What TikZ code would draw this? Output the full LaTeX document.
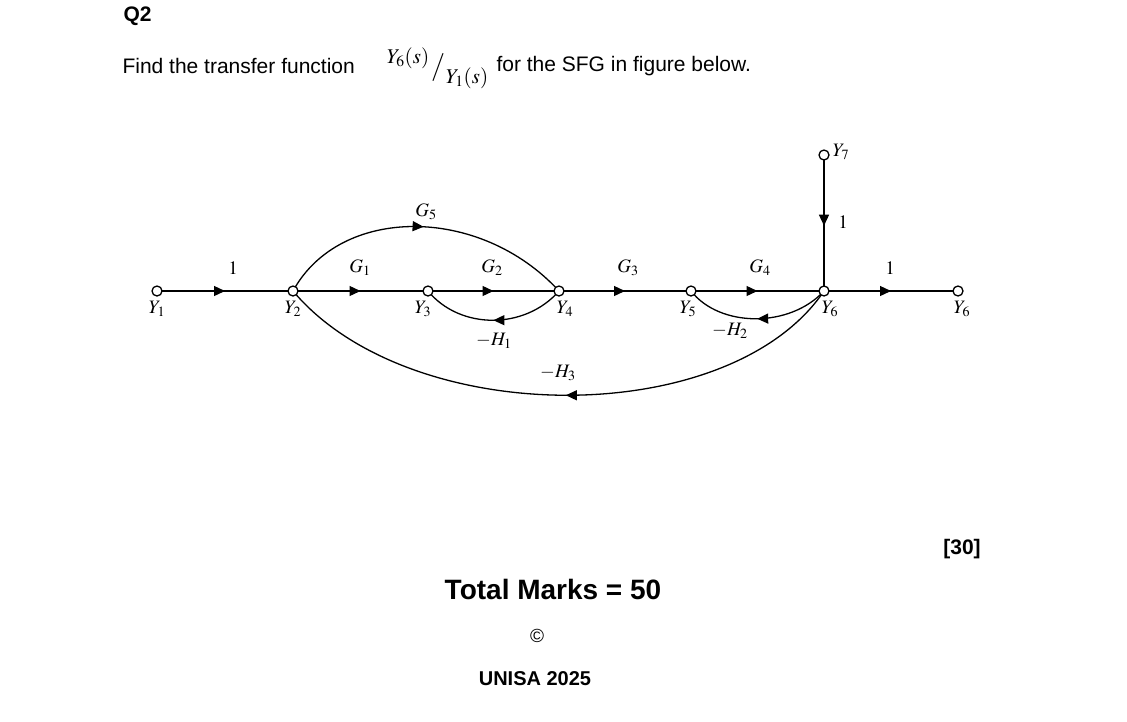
\documentclass[tikz,border=0pt]{standalone}
\usepackage{mathptmx}
\usepackage{fontspec}
\setmainfont{Liberation Sans}
\usetikzlibrary{decorations.markings,arrows.meta}
\begin{document}
\begin{tikzpicture}[x=1pt,y=-1pt,
  nd/.style={circle,draw,fill=white,inner sep=0pt,minimum size=10pt,line width=1.3pt},
  br/.style={line width=1.3pt,postaction={decorate},decoration={markings,mark=at position #1 with {\arrow{Triangle[length=11pt,width=10pt]}}}},
  br/.default=0.5,
  lb/.style={font=\fontsize{19}{19}\selectfont},
  yl/.style={font=\fontsize{19}{19}\selectfont}]
\useasboundingbox (0,0) rectangle (1127,721);
\node[anchor=west,font=\bfseries\fontsize{21}{21}\selectfont] (q) at (120,16) {Q2};
\node[anchor=west,font=\fontsize{21}{21}\selectfont] (t1) at (119,66) {Find the transfer function};
\node[font=\fontsize{21}{21}\selectfont] (fr1) at (408,58) {$Y_6(s)$};
\node[font=\fontsize{28}{28}\selectfont] (sl) at (438,68) {$/$};
\node[font=\fontsize{21}{21}\selectfont] (fr2) at (467,78) {$Y_1(s)$};
\node[anchor=west,font=\fontsize{21}{21}\selectfont] (t2) at (493,66) {for the SFG in figure below.};
\node[font=\bfseries\fontsize{21}{21}\selectfont] (m) at (962,549) {[30]};
\node[font=\bfseries\fontsize{28}{28}\selectfont] (tm) at (553,589) {Total Marks = 50};
\node[font=\fontsize{19}{19}\selectfont] (c) at (537,636) {©};
\node[font=\bfseries\fontsize{20}{20}\selectfont] (u) at (535,679) {UNISA 2025};

\coordinate (p1) at (157,291);
\coordinate (p2) at (293,291);
\coordinate (p3) at (428,291);
\coordinate (p4) at (559,291);
\coordinate (p5) at (691,291);
\coordinate (p6) at (824,291);
\coordinate (p8) at (958,291);
\coordinate (p7) at (824,155);

\draw[br] (p1) -- (p2);
\draw[br] (p2) -- (p3);
\draw[br] (p3) -- (p4);
\draw[br] (p4) -- (p5);
\draw[br] (p5) -- (p6);
\draw[br] (p6) -- (p8);
\draw[br=0.52] (p7) -- (p6);
\draw[br] (p2) .. controls (340,205) and (480,205) .. (p4);
\draw[br] (p4) .. controls (525,330) and (460,330) .. (p3);
\draw[br] (p6) .. controls (790,328) and (720,328) .. (p5);
\draw[br=0.49] (p6) .. controls (730,430) and (410,430) .. (p2);

\foreach \i in {1,...,8} \node[nd] (Y\i) at (p\i) {};

\node[yl] at (157,309) {$Y_1$};
\node[yl] at (293,309) {$Y_2$};
\node[yl] at (423,309) {$Y_3$};
\node[yl] at (565,309) {$Y_4$};
\node[yl] at (688,309) {$Y_5$};
\node[yl] at (830,309) {$Y_6$};
\node[yl] at (962,309) {$Y_6$};
\node[yl] at (841,152) {$Y_7$};

\node[lb] at (233,268) {$1$};
\node[lb] at (360,268) {$G_1$};
\node[lb] at (492,268) {$G_2$};
\node[lb] at (426,212) {$G_5$};
\node[lb] at (628,268) {$G_3$};
\node[lb] at (760,268) {$G_4$};
\node[lb] at (890,268) {$1$};
\node[lb] at (843,222) {$1$};
\node[lb] at (494,341) {$-H_1$};
\node[lb] at (558,373) {$-H_3$};
\node[lb] at (730,331) {$-H_2$};
\end{tikzpicture}
\end{document}
